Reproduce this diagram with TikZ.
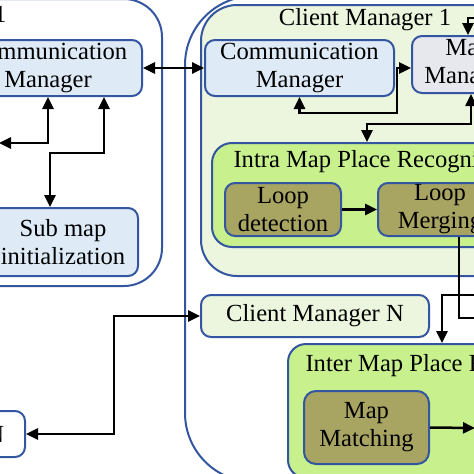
\documentclass[tikz,border=0pt]{standalone}
\usepackage{fontspec}
\setmainfont{Liberation Serif}
\usepackage{tikz}
\usetikzlibrary{arrows.meta}
\definecolor{edgeblue}{RGB}{52,86,160}
\definecolor{commblue}{RGB}{222,235,247}
\definecolor{mgrgrey}{RGB}{230,232,237}
\definecolor{palegreen}{RGB}{236,246,222}
\definecolor{limegreen}{RGB}{200,241,142}
\definecolor{olive}{RGB}{168,164,98}

\begin{document}
\begin{tikzpicture}[x=1pt,y=-1pt,
    font=\fontsize{24.6}{28}\selectfont,
    cont/.style={draw=edgeblue,line width=2pt,rounded corners=#1,inner sep=0pt},
    cont/.default=10pt,
    blk/.style={cont=10pt,align=center},
    oneway/.style={line width=2.5pt,-{Triangle[length=12pt,width=11pt]}},
    twoway/.style={line width=2.5pt,{Triangle[length=12pt,width=11pt]}-{Triangle[length=12pt,width=11pt]}},
    ]
\useasboundingbox (0,0) rectangle (474,474);
\clip (0,0) rectangle (474,474);

% client side
\node[cont=38pt,fill=white,minimum width=300pt,minimum height=287pt] (client1) at (12,142.5) {};
\node[anchor=base east] (client1lbl) at (10,22) {Client 1};
\node[blk,fill=commblue,minimum width=188pt,minimum height=56pt] (lcomm) at (48,68) {Communication\\Manager};
\node[blk,fill=commblue,minimum width=150pt,minimum height=68pt] (submap) at (63,242) {Sub map\\initialization};
\node[blk,fill=white,minimum width=126pt,minimum height=46pt] (clientN) at (-38,434) {Client N};

% server side
\node[cont=69pt,fill=white,minimum width=515pt,minimum height=486pt] (server) at (442.5,239) {};
\node[cont=36pt,fill=palegreen,minimum width=499pt,minimum height=271pt] (cm1) at (450.5,140.5) {};
\node[anchor=base] (cm1lbl) at (365,25) {Client Manager 1};
\node[blk,fill=commblue,minimum width=189pt,minimum height=56pt] (ccomm) at (299.5,68) {Communication\\Manager};
\node[blk,fill=mgrgrey,minimum width=112pt,minimum height=57pt] (mapmgr) at (468,64.5) {Map\\Manager};
\node[cont=20pt,fill=limegreen,minimum width=488pt,minimum height=104pt] (intra) at (456,195) {};
\node[anchor=base west] (intralbl) at (230,167) {Intra Map Place Recognition};
\node[blk,fill=olive,minimum width=116pt,minimum height=53pt] (loopdet) at (283,209.5) {Loop\\detection};
\node[blk,fill=olive,minimum width=124pt,minimum height=53pt] (loopmrg) at (440,209.5) {Loop\\Merging};
\node[blk,fill=palegreen,minimum width=228pt,minimum height=42pt] (cmN) at (315,316) {Client Manager N};
\node[cont=18pt,fill=limegreen,minimum width=412pt,minimum height=134pt] (inter) at (494,411) {};
\node[anchor=base west] (interlbl) at (302,371) {Inter Map Place Recognition};
\node[blk,cont=12pt,fill=olive,minimum width=125pt,minimum height=73pt] (mapmatch) at (366.5,427.5) {Map\\Matching};

% loose ends
\coordinate (lout) at (-1,143);
\coordinate (mtop) at (490,18);
\coordinate (mout) at (495,318);
\coordinate (iin) at (495,295);
\coordinate (mmout) at (475,428);

\draw[twoway] (lcomm.east) -- (ccomm.west);
\draw[twoway] (lcomm.south) |- (lout);
\draw[twoway] ([xshift=56pt]lcomm.south) -- ++(0,56) -| ([xshift=-13pt]submap.north);
\draw[twoway] (ccomm.south) -- ++(0,16) -| ([xshift=-14pt,yshift=-3.5pt]mapmgr.west) -- ([yshift=-3.5pt]mapmgr.west);
\draw[oneway] (mtop) -| (mapmgr.north);
\draw[twoway] ([xshift=3pt]mapmgr.south) -- ++(0,30) -| ([xshift=-89pt]intra.north);
\draw[oneway] (loopdet) -- (loopmrg);
\draw[oneway] ([xshift=19pt]loopmrg.south) |- (mout);
\draw[oneway] (iin) -| ([xshift=-52pt]inter.north);
\draw[twoway] (clientN.east) -- ++(88,0) |- (cmN.west);
\draw[oneway] (mapmatch.east) -- (mmout);
\end{tikzpicture}
\end{document}
